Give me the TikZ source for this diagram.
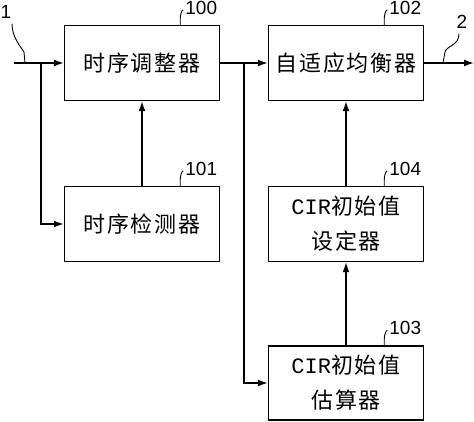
\documentclass[tikz,border=0pt]{standalone}
\usepackage{fontspec}
\setmainfont{Liberation Sans}
\newfontfamily\cjk{Noto Sans CJK SC}[LetterSpace=8]
\newfontfamily\cirfont{Liberation Mono}
\usetikzlibrary{arrows.meta}
\tikzset{
  blk/.style = {draw, line width = 1.4pt, minimum width = 155pt, minimum height = 75pt,
    inner sep = 0pt, align = center, font = \cjk\fontsize{22}{35}\selectfont},
  num/.style = {inner sep = 0pt, font = \fontsize{19}{19}\selectfont},
  arr/.style = {line width = 1.4pt, -{Latex[length = 10pt, width = 7pt]}},
  lead/.style = {line width = .9pt}
}
\begin{document}
\begin{tikzpicture}[x = 1pt, y = 1pt]
  \useasboundingbox (0, 0) rectangle (474, 422);
  \def\mainy{359}
  % blocks
  \node[blk] (adj) at (142, \mainy) {时序调整器};
  \node[blk] (eq) at (346, \mainy) {自适应均衡器};
  \node[blk] (det) at (142, 198) {时序检测器};
  \node[blk] (set) at (346, 198) {{\cirfont CIR}初始值\\设定器};
  \node[blk, minimum height = 74pt] (est) at (346, 39) {{\cirfont CIR}初始值\\估算器};
  % signal line points
  \coordinate (in) at (14, \mainy);
  \coordinate (b1) at (41, \mainy);
  \coordinate (b2) at (244, \mainy);
  \coordinate (out) at (474, \mainy);
  \coordinate (t1) at (25, \mainy);
  \coordinate (t2) at (443, \mainy);
  % connectors
  \draw[arr] (in) -- (adj.west);
  \draw[arr] (b1) |- (det.west);
  \draw[arr] (det.north) -- (adj.south);
  \draw[arr] (adj.east) -- (eq.west);
  \draw[arr] (b2) |- (est.west);
  \draw[arr] (est.north) -- (set.south);
  \draw[arr] (set.north) -- (eq.south);
  \draw[arr] (eq.east) -- (out);
  % reference numbers
  \node[num] (n1) at (6, 410) {1};
  \node[num] (n2) at (462, 400) {2};
  \draw[lead] ([shift = {(6, -5)}]n1.south) .. controls +(0, -14) and +(-3, 5) .. (24, 370) -- (t1);
  \draw[lead] ([shift = {(-3, -5)}]n2.south) .. controls +(0, -12) and +(1, 6) .. (445, 370) -- (t2);
  \foreach \b/\n in {adj/100, eq/102, det/101, set/104, est/103} {
    \node[num, anchor = west] (n\n) at ([shift = {(-35, 17)}]\b.north east) {\n};
    \draw[lead] ([xshift = -40]\b.north east) -- ++(0, 5) .. controls +(0, 4) and +(-2, -1) .. ++(3, 10);
  }
\end{tikzpicture}
\end{document}
